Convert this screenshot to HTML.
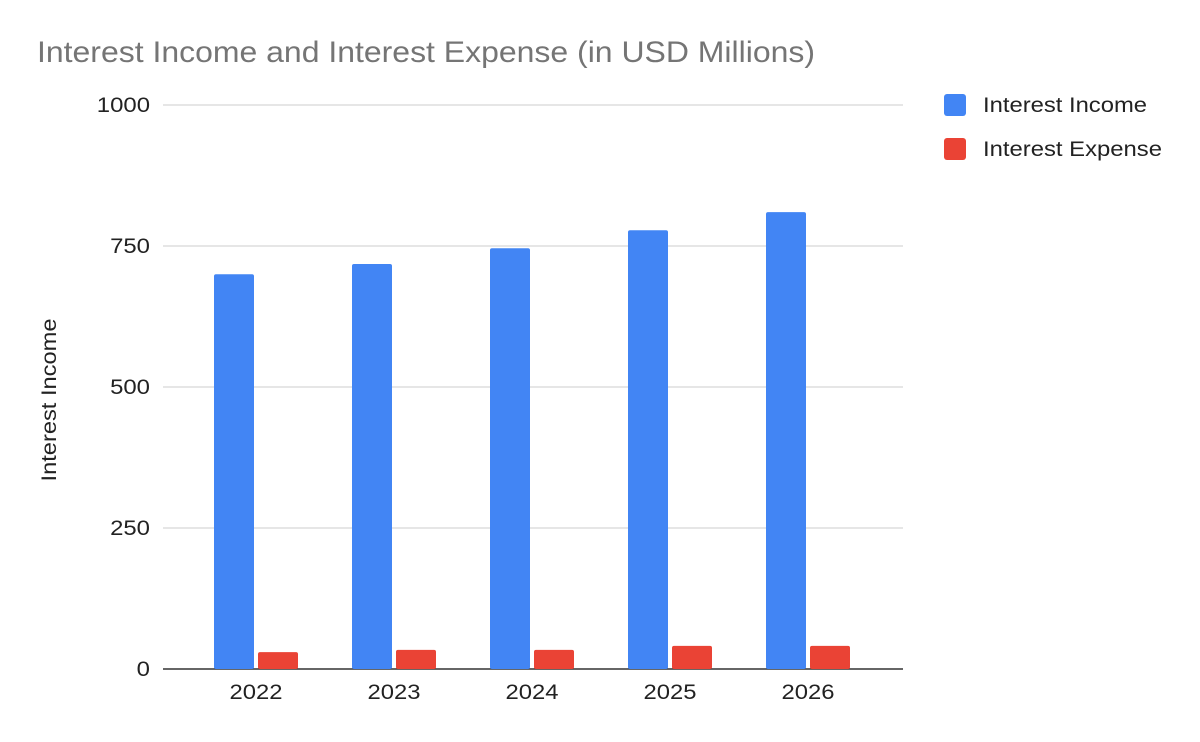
<!DOCTYPE html>
<html><head><meta charset="utf-8"><style>
body{margin:0;background:#fff;font-family:"Liberation Sans",Arial,sans-serif;}
svg{display:block}
</style></head><body>
<svg id="chart" width="1200" height="742">
<text x="37" y="62" font-size="30" fill="#757575" textLength="778" lengthAdjust="spacingAndGlyphs">Interest Income and Interest Expense (in USD Millions)</text>
<text transform="translate(56,400) rotate(-90)" text-anchor="middle" font-size="21" fill="#222" textLength="163" lengthAdjust="spacingAndGlyphs">Interest Income</text>
<g>
<g><rect x="944" y="94" width="22" height="22" rx="3" fill="#4285f4"/><text x="983" y="112" font-size="21" fill="#222" textLength="164" lengthAdjust="spacingAndGlyphs">Interest Income</text></g>
<g><rect x="944" y="138" width="22" height="22" rx="3" fill="#ea4335"/><text x="983" y="156" font-size="21" fill="#222" textLength="179" lengthAdjust="spacingAndGlyphs">Interest Expense</text></g>
</g>
<g id="grid"></g><g id="bars"></g><g id="xlabels"></g>
</svg>
<script>
const categories=["2022","2023","2024","2025","2026"];
const incomeValues=[700,718,746,778,810];
const expenseValues=[30,34,34,41,41];
const yTicks=[0,250,500,750,1000];
const NS="http://www.w3.org/2000/svg";
const x0=163,x1=903,yBase=669,yTop=105,yMax=1000;
function y(v){return yBase-(v/yMax)*(yBase-yTop);}
function cx(i){return 256+i*138;}
function mk(t,a,p){const e=document.createElementNS(NS,t);for(const k in a)e.setAttribute(k,a[k]);p.appendChild(e);return e;}
const grid=document.getElementById('grid');
yTicks.forEach(t=>{
  const l=mk('line',{x1:x0,x2:x1,y1:y(t),y2:y(t),stroke:t===0?'#333':'#ccc','stroke-width':t===0?1.5:1},grid);
  
  
  const s=String(t);
  const tx=mk('text',{x:150,y:y(t)+7,'text-anchor':'end','font-size':21,fill:'#222',textLength:s.length*13.3,lengthAdjust:'spacingAndGlyphs'},grid);
  tx.textContent=s;
  
  
});
const bars=document.getElementById('bars'),xl=document.getElementById('xlabels');
categories.forEach((c,i)=>{
  const a=mk('rect',{x:cx(i)-42,y:y(incomeValues[i]),width:40,height:yBase-y(incomeValues[i]),rx:2,fill:'#4285f4'},bars);
  
  
  const b=mk('rect',{x:cx(i)+2,y:y(expenseValues[i]),width:40,height:yBase-y(expenseValues[i]),rx:2,fill:'#ea4335'},bars);
  
  
  const t=mk('text',{x:cx(i),y:699,'text-anchor':'middle','font-size':21,fill:'#222',textLength:53,lengthAdjust:'spacingAndGlyphs'},xl);
  t.textContent=c;
  
  
});
</script>
</body></html>
